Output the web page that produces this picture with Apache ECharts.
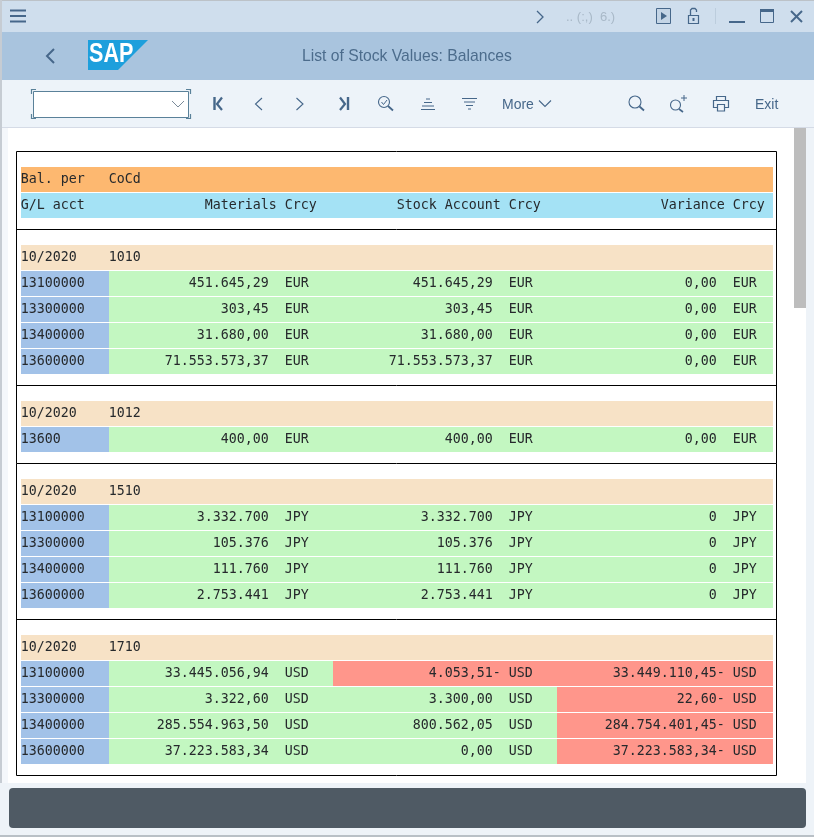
<!DOCTYPE html>
<html><head><meta charset="utf-8">
<style>html,body{margin:0;padding:0;background:#fff}#c{width:814px;height:837px}</style>
<script src="https://cdn.jsdelivr.net/npm/echarts@6/dist/echarts.min.js"></script>
</head><body><div id="c"></div>
<script>
// ---- data ----
const titleText = 'List of Stock Values: Balances';
const period = '10/2020';
const headerTop = ['Bal. per', 'CoCd'];
const headerColumns = ['G/L acct', 'Materials', 'Crcy', 'Stock Account', 'Crcy', 'Variance', 'Crcy'];
const companyCodes = ['1010', '1012', '1510', '1710'];
const currencies = ['EUR', 'EUR', 'JPY', 'USD'];
const decimals = [2, 2, 0, 2];
const accounts = [
  ['13100000', '13300000', '13400000', '13600000'],
  ['13600'],
  ['13100000', '13300000', '13400000', '13600000'],
  ['13100000', '13300000', '13400000', '13600000']
];
const materials = [
  [451645.29, 303.45, 31680.00, 71553573.37],
  [400.00],
  [3332700, 105376, 111760, 2753441],
  [33445056.94, 3322.60, 285554963.50, 37223583.34]
];
const stockAccount = [
  [451645.29, 303.45, 31680.00, 71553573.37],
  [400.00],
  [3332700, 105376, 111760, 2753441],
  [-4053.51, 3300.00, 800562.05, 0.00]
];
const variance = [
  [0, 0, 0, 0],
  [0],
  [0, 0, 0, 0],
  [-33449110.45, -22.60, -284754401.45, -37223583.34]
];

// ---- palette ----
const fills = {orange:'#fdb870', sky:'#a4e2f5', beige:'#f7e2c6', acct:'#a2c2e8', green:'#c3f7c1', red:'#ff968b'};
const ink = '#26292c', uiInk = '#46678a';
const mono = '"DejaVu Sans Mono", monospace';

// ---- text-grid layout (columns of the list output) ----
const COL = {code:11, matEnd:32, matCur:33, stockStart:39, stockEnd:60, stockCur:61, varStart:67, varEnd:88, varCur:89, end:94};

function fmt(v, dec) {
  const s = Math.abs(v).toLocaleString('de-DE', {minimumFractionDigits:dec, maximumFractionDigits:dec});
  return s + (v < 0 ? '-' : ' ');
}
const rowNames = [], cells = [], texts = [], rules = [];
function addRow(name){ rowNames.push(name); return rowNames.length - 1; }
function band(r, a, b, f){ cells.push([r, a, b, f]); }
function txt(r, col, s){ texts.push([r, col, s]); }
function txtEnd(r, end, s){ texts.push([r, end - s.length, s]); }

rules.push([addRow('top')]);
let r = addRow('head1');
band(r, 0, COL.end, 'orange'); txt(r, 0, headerTop[0]); txt(r, COL.code, headerTop[1]);
r = addRow('head2');
band(r, 0, COL.end, 'sky');
txt(r, 0, headerColumns[0]);
txtEnd(r, COL.matEnd, headerColumns[1]); txt(r, COL.matCur, headerColumns[2]);
txtEnd(r, COL.stockEnd, headerColumns[3]); txt(r, COL.stockCur, headerColumns[4]);
txtEnd(r, COL.varEnd, headerColumns[5]); txt(r, COL.varCur, headerColumns[6]);
companyCodes.forEach((code, b) => {
  rules.push([addRow('rule' + b)]);
  r = addRow('title' + b);
  band(r, 0, COL.end, 'beige'); txt(r, 0, period); txt(r, COL.code, code);
  accounts[b].forEach((acc, i) => {
    r = addRow(code + '-' + acc);
    const st = stockAccount[b][i], va = variance[b][i];
    const redFrom = st < 0 ? COL.stockStart : (va < 0 ? COL.varStart : COL.end);
    band(r, 0, COL.code, 'acct');
    band(r, COL.code, redFrom, 'green');
    if (redFrom < COL.end) band(r, redFrom, COL.end, 'red');
    txt(r, 0, acc);
    txtEnd(r, COL.matEnd, fmt(materials[b][i], decimals[b])); txt(r, COL.matCur, currencies[b]);
    txtEnd(r, COL.stockEnd, fmt(st, decimals[b])); txt(r, COL.stockCur, currencies[b]);
    txtEnd(r, COL.varEnd, fmt(va, decimals[b])); txt(r, COL.varCur, currencies[b]);
  });
});
rules.push([addRow('bottom')]);

// ---- window chrome (not data) ----
const g = [];
const R = (x,y,w,h,fill,extra) => g.push(Object.assign({type:'rect',shape:{x,y,width:w,height:h},style:{fill},silent:true},extra||{}));
const P = (pts,w,col) => g.push({type:'polyline',shape:{points:pts},style:{stroke:col||uiInk,lineWidth:w||1.3,fill:null},silent:true});
const C = (cx,cy,rad,w,col) => g.push({type:'circle',shape:{cx,cy,r:rad},style:{stroke:col||uiInk,lineWidth:w||1.2,fill:null},silent:true});
const T = (x,y,s,size,col,font,extra,el) => g.push(Object.assign({type:'text',x,y,silent:true,style:Object.assign({text:s,fontSize:size,fill:col||uiInk,fontFamily:font||'"Liberation Sans", Arial',verticalAlign:'middle',align:'left'},extra||{})},el||{}));

R(0,0,814,837,'#ffffff');
R(0,0,814,32,'#cfdeed');
R(0,32,814,48,'#a9c4de');
R(0,80,814,47,'#edf3f9');
R(0,127,814,1,'#d5dbe6');
R(0,0,814,1,'#bcc2c8');
R(0,0,2,837,'#c6ccd3');
R(2,128,6,655,'#f4f7fb');
R(806,128,8,660,'#eef3f8');
R(794,128,12,180,'#bdbdbd');
R(0,783,814,54,'#eef3f8');
R(0,835,814,2,'#b9c0c6');
R(9,788,797,40,'#4f5a64',{shape:{x:9,y:788,width:797,height:40,r:4}});

// title bar
[[10.5],[16],[21.5]].forEach(a => R(10,a[0]-1,16,2,uiInk));
P([[537,11],[543,17],[537,23]],1.3);
T(566,17,'.. (:,)  6.)',13,'#a9b9c8','"Liberation Sans", Arial',{letterSpacing:2});
R(656.5,8.5,14,15,'#c4d5e6',{style:{fill:'#c4d5e6',stroke:uiInk,lineWidth:1}});
g.push({type:'polygon',shape:{points:[[661,12],[667,16],[661,20]]},style:{fill:uiInk},silent:true});
R(688.5,15.5,10,8,'#cfdeed',{style:{fill:'#cfdeed',stroke:uiInk,lineWidth:1.2}});
P([[690.5,15],[690.5,10],[692,8.5],[695,8.5],[696.5,10],[696.5,12]],1.3);
R(692.5,18,2,3,uiInk);
R(715,8,1,16,'#bccddd');
R(729,21,16,2,uiInk);
R(760.5,9.5,13,13,'#cfdeed',{style:{fill:'#cfdeed',stroke:uiInk,lineWidth:1}});
R(760,9,14,3,uiInk);
P([[791,11],[802,22]],2); P([[802,11],[791,22]],2);

// title band
P([[54,49],[47,56],[54,63]],2);
g.push({type:'polygon',shape:{points:[[88,40],[148,40],[118,70],[88,70]]},style:{fill:'#1d9fdc'},silent:true});
T(89,55,'SAP',27,'#ffffff','"Liberation Sans", Arial',{fontWeight:'bold'},{scaleX:0.8,originX:0,originY:0});

// toolbar
R(33.5,91.5,155,26,'#ffffff',{style:{fill:'#ffffff',stroke:'#5a8199',lineWidth:1}});
[[31.5,94,31.5,89.5,36,89.5],[186,89.5,190.5,89.5,190.5,94],[31.5,114,31.5,118.5,36,118.5],[186,118.5,190.5,118.5,190.5,114]].forEach(q =>
  P([[q[0],q[1]],[q[2],q[3]],[q[4],q[5]]],1.2,'#5a8199'));
P([[172,101],[178,107],[184,101]],1,'#7a8a99');
P([[214.5,97],[214.5,110]],2.4);
P([[222,97.5],[217,104],[222,110]],2.2);
P([[262,98],[255.5,104],[262,110]],1.1);
P([[296.5,98],[303,104],[296.5,110]],1.1);
P([[340,97.5],[345,104],[340,110]],2.2);
P([[348,97],[348,110]],2.4);
C(384,102,5.5,1.1); P([[388,106],[393,110.5]],1.8); P([[381.5,102],[383.5,104.5],[387,100]],1);
P([[426,99],[430,99]],1); P([[424,102.5],[432,102.5]],1); P([[422,106],[434,106]],1); P([[421,109.5],[435,109.5]],1);
P([[462,98.5],[477,98.5]],1); P([[464,102],[475,102]],1); P([[466,105.5],[473,105.5]],1); P([[468,109],[471,109]],1);
T(502,105,'More',14);
P([[539,100.5],[545,106.5],[551,100.5]],1.1);
C(635,102,6,1.1); P([[639.5,106.5],[644,110.5]],1.8);
C(675.5,105,5,1.1); P([[679,109],[683,112]],1.6); P([[684,95],[684,101]],1); P([[681,98],[687,98]],1);
R(716.5,96.5,9,5,'#edf3f9',{style:{fill:'#edf3f9',stroke:uiInk,lineWidth:1.2}});
R(713.5,100.5,15,7,'#edf3f9',{style:{fill:'#edf3f9',stroke:uiInk,lineWidth:1.2}});
R(717.5,104.5,7,6.5,'#edf3f9',{style:{fill:'#edf3f9',stroke:uiInk,lineWidth:1.2}});
T(755,105,'Exit',14);

// ---- chart ----
const chart = echarts.init(document.getElementById('c'), null, {renderer:'canvas'});
chart.setOption({
  animation:false,
  backgroundColor:'#ffffff',
  title:{text:titleText,left:302,top:48,padding:0,textStyle:{fontFamily:'"Liberation Sans", Arial',fontSize:15.7,fontWeight:'normal',color:'#4c6c8c',lineHeight:18}},
  grid:{left:21,top:141,width:752,height:26*rowNames.length,containLabel:false},
  xAxis:{type:'value',min:0,max:COL.end,show:false},
  yAxis:{type:'category',inverse:true,data:rowNames,show:false},
  graphic:{elements:g},
  series:[
    {type:'custom',name:'cells',coordinateSystem:'cartesian2d',silent:true,z:3,
     encode:{x:[1,2],y:0},data:cells,
     renderItem(p,api){
       const a=api.coord([api.value(1),api.value(0)]), b=api.coord([api.value(2),api.value(0)]);
       const h=api.size([0,1])[1];
       return {type:'rect',shape:{x:a[0],y:a[1]-h/2,width:b[0]-a[0],height:h-1},style:{fill:fills[cells[p.dataIndex][3]]}};
     }},
    {type:'custom',name:'rules',coordinateSystem:'cartesian2d',silent:true,z:4,
     encode:{y:0},data:rules,
     renderItem(p,api){
       const a=api.coord([0,api.value(0)]), b=api.coord([COL.end,api.value(0)]);
       const h=api.size([0,1])[1], y=Math.round(a[1]-h/2+10)+0.5;
       const out=[{type:'line',shape:{x1:a[0]-4.5,y1:y,x2:b[0]+3.5,y2:y},style:{stroke:'#000',lineWidth:1}}];
       if(p.dataIndex===0){
         const yEnd=y+h*(rowNames.length-1);
         out.push({type:'line',shape:{x1:a[0]-4.5,y1:y,x2:a[0]-4.5,y2:yEnd},style:{stroke:'#000',lineWidth:1}});
         out.push({type:'line',shape:{x1:b[0]+3.5,y1:y,x2:b[0]+3.5,y2:yEnd},style:{stroke:'#000',lineWidth:1}});
       }
       return {type:'group',children:out};
     }},
    {type:'custom',name:'text',coordinateSystem:'cartesian2d',silent:true,z:5,
     encode:{x:1,y:0},data:texts.map(t=>[t[0],t[1]]),
     renderItem(p,api){
       const a=api.coord([api.value(1),api.value(0)]);
       return {type:'text',x:a[0]-0.3,y:a[1],style:{text:texts[p.dataIndex][2],fontFamily:mono,fontSize:13.29,fill:ink,align:'left',verticalAlign:'middle'}};
     }}
  ]
});
</script></body></html>
